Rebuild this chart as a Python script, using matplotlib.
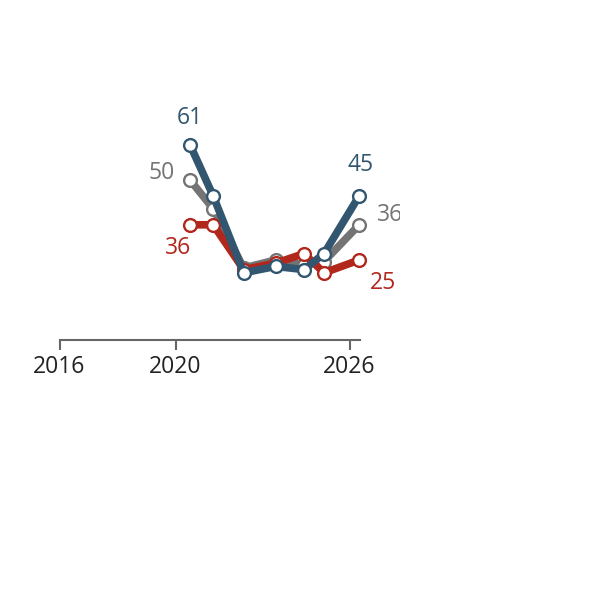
import matplotlib
matplotlib.use("Agg")
import matplotlib.pyplot as plt
from matplotlib.transforms import Bbox

plt.rcParams['font.family'] = ['Open Sans', 'DejaVu Sans']

years = [2020.5, 2021.3, 2022.35, 2023.45, 2024.43, 2025.12, 2026.33]
blue_vals = [61, 45, 21, 23, 22, 27, 45]
gray_vals = [50, 41, 22.5, 25, 23.5, 24.5, 36]
red_vals = [36, 36, 22, 24, 27, 21, 25]
tick_years = [2016, 2020, 2026]

series = [
    ("gray", gray_vals, "#747474", (-28, 7), "center", (18, 10), "left"),
    ("red", red_vals, "#b1271c", (-12, -23), "center", (11, -23), "left"),
    ("blue", blue_vals, "#32566f", (0, 27), "center", (1, 31), "center"),
]

fig = plt.figure(figsize=(5.92, 5.92), dpi=100)
W = H = 592.0
left, right = 59.5, 360.0
bottom_px, top_px = 340.0, 116.0
ax = fig.add_axes([left / W, 1 - bottom_px / H, (right - left) / W, (bottom_px - top_px) / H])
ax.set_xlim(2016, 2026.36)
ax.set_ylim(0, 70)

clip = Bbox.from_extents(0, 0, 400, 592)

for i, (name, vals, col, off0, ha0, off1, ha1) in enumerate(series):
    ax.plot(years, vals, color=col, lw=5.5, solid_capstyle='round', zorder=2 + i,
            marker='o', markersize=9.2, markerfacecolor='white', markeredgecolor=col,
            markeredgewidth=1.7, clip_on=False)
    t0 = ax.annotate(f"{vals[0]:g}", (years[0], vals[0]), xytext=off0, textcoords='offset pixels',
                     ha=ha0, va='center', color=col, fontsize=16.5, zorder=10)
    t1 = ax.annotate(f"{vals[-1]:g}", (years[-1], vals[-1]), xytext=off1, textcoords='offset pixels',
                     ha=ha1, va='center', color=col, fontsize=16.5, zorder=10, annotation_clip=False)
    t1.set_clip_on(True)
    t1.set_clip_box(clip)

for s in ['left', 'top', 'right']:
    ax.spines[s].set_visible(False)
ax.spines['bottom'].set_color('#666666')
ax.spines['bottom'].set_linewidth(1.5)
ax.set_yticks([])
ax.set_xticks(tick_years)
ax.set_xticklabels([str(y) for y in tick_years])
ax.tick_params(axis='x', length=7.5, width=1.5, color='#666666', labelsize=16.5,
               labelcolor='#222222', pad=3.5)

fig.savefig("out.png", dpi=100)
